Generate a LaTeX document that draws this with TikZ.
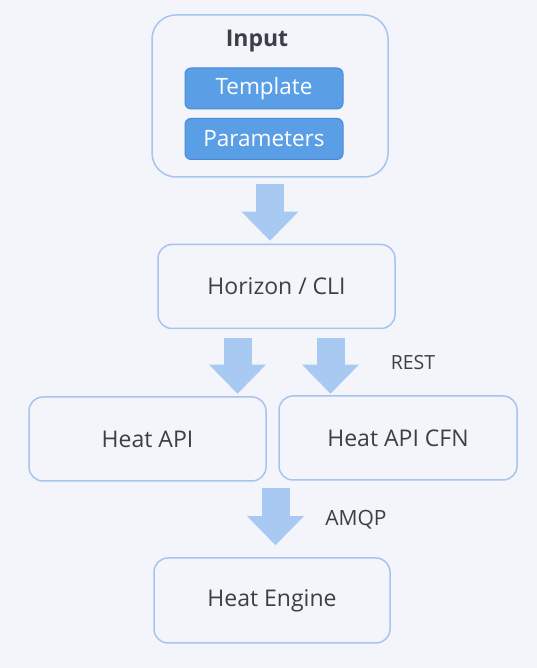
\documentclass[tikz,border=0pt]{standalone}
\usepackage{fontspec}
\setmainfont{Open Sans}
\usetikzlibrary{arrows.meta}
\definecolor{bg}{HTML}{F3F5FA}
\definecolor{boxline}{HTML}{A6C4EE}
\definecolor{darkblue}{HTML}{5A9EE6}
\definecolor{darkblueline}{HTML}{4A8AD6}
\definecolor{arrowfill}{HTML}{A8C9F2}
\definecolor{txt}{HTML}{3E3E48}
\tikzset{
  plainbox/.style={draw=boxline, line width=1.5pt, rounded corners=14pt, fill=bg,
    minimum width=237pt, minimum height=84pt, inner sep=0pt, text=txt,
    font=\fontsize{23}{27}\selectfont},
  outerbox/.style={draw=boxline, line width=1.5pt, rounded corners=24pt, fill=bg,
    minimum width=236pt, minimum height=162pt, inner sep=0pt},
  bluebox/.style={draw=darkblueline, line width=1pt, rounded corners=6pt, fill=darkblue,
    minimum width=158pt, minimum height=41pt, inner sep=0pt, text=white,
    font=\fontsize{22.5}{26}\selectfont},
  bigarrow/.style={draw=arrowfill, line width=28pt,
    -{Triangle[width=55pt,length=29pt,fill=arrowfill]}},
  lbl/.style={text=txt, inner sep=0pt, font=\fontsize{19.5}{23}\selectfont}
}
\begin{document}
\begin{tikzpicture}[x=1pt,y=1pt]
\fill[bg] (0,0) rectangle (537,668);
\useasboundingbox (0,0) rectangle (537,668);
% input group
\node[outerbox] (input) at (270,572) {};
\node[text=txt, font=\bfseries\fontsize{23}{27}\selectfont, inner sep=0pt] (inputlbl) at (257,627) {Input};
\node[bluebox] (template) at (264,579.5) {Template};
\node[bluebox] (params) at (264,529) {Parameters};
% other boxes
\node[plainbox] (horizon) at (276.5,381.5) {Horizon / CLI};
\node[plainbox] (heatapi) at (147.5,229) {Heat API};
\node[plainbox, minimum width=238pt] (cfn) at (398,230) {Heat API CFN};
\node[plainbox, minimum width=236pt, minimum height=85pt] (engine) at (272,67.5) {Heat Engine};
% labels
\node[lbl] (rest) at (413,305) {REST};
\node[lbl, font=\fontsize{21}{25}\selectfont] (amqp) at (356,148) {AMQP};
% arrows
\coordinate (a1s) at ([yshift=-6pt]input.south);
\coordinate (a1e) at ([xshift=-6.5pt,yshift=3pt]horizon.north);
\draw[bigarrow] (a1s) -- (a1e);
\coordinate (a2s) at ([xshift=-39pt,yshift=-8.5pt]horizon.south);
\coordinate (a2e) at ([xshift=-39pt,yshift=-64.5pt]horizon.south);
\draw[bigarrow] (a2s) -- (a2e);
\coordinate (a3s) at ([xshift=54pt,yshift=-8.5pt]horizon.south);
\coordinate (a3e) at ([xshift=54pt,yshift=-64.5pt]horizon.south);
\draw[bigarrow] (a3s) -- (a3e);
\coordinate (a4s) at ([xshift=3.5pt,yshift=69pt]engine.north);
\coordinate (a4e) at ([xshift=3.5pt,yshift=12pt]engine.north);
\draw[bigarrow] (a4s) -- (a4e);
\end{tikzpicture}
\end{document}
